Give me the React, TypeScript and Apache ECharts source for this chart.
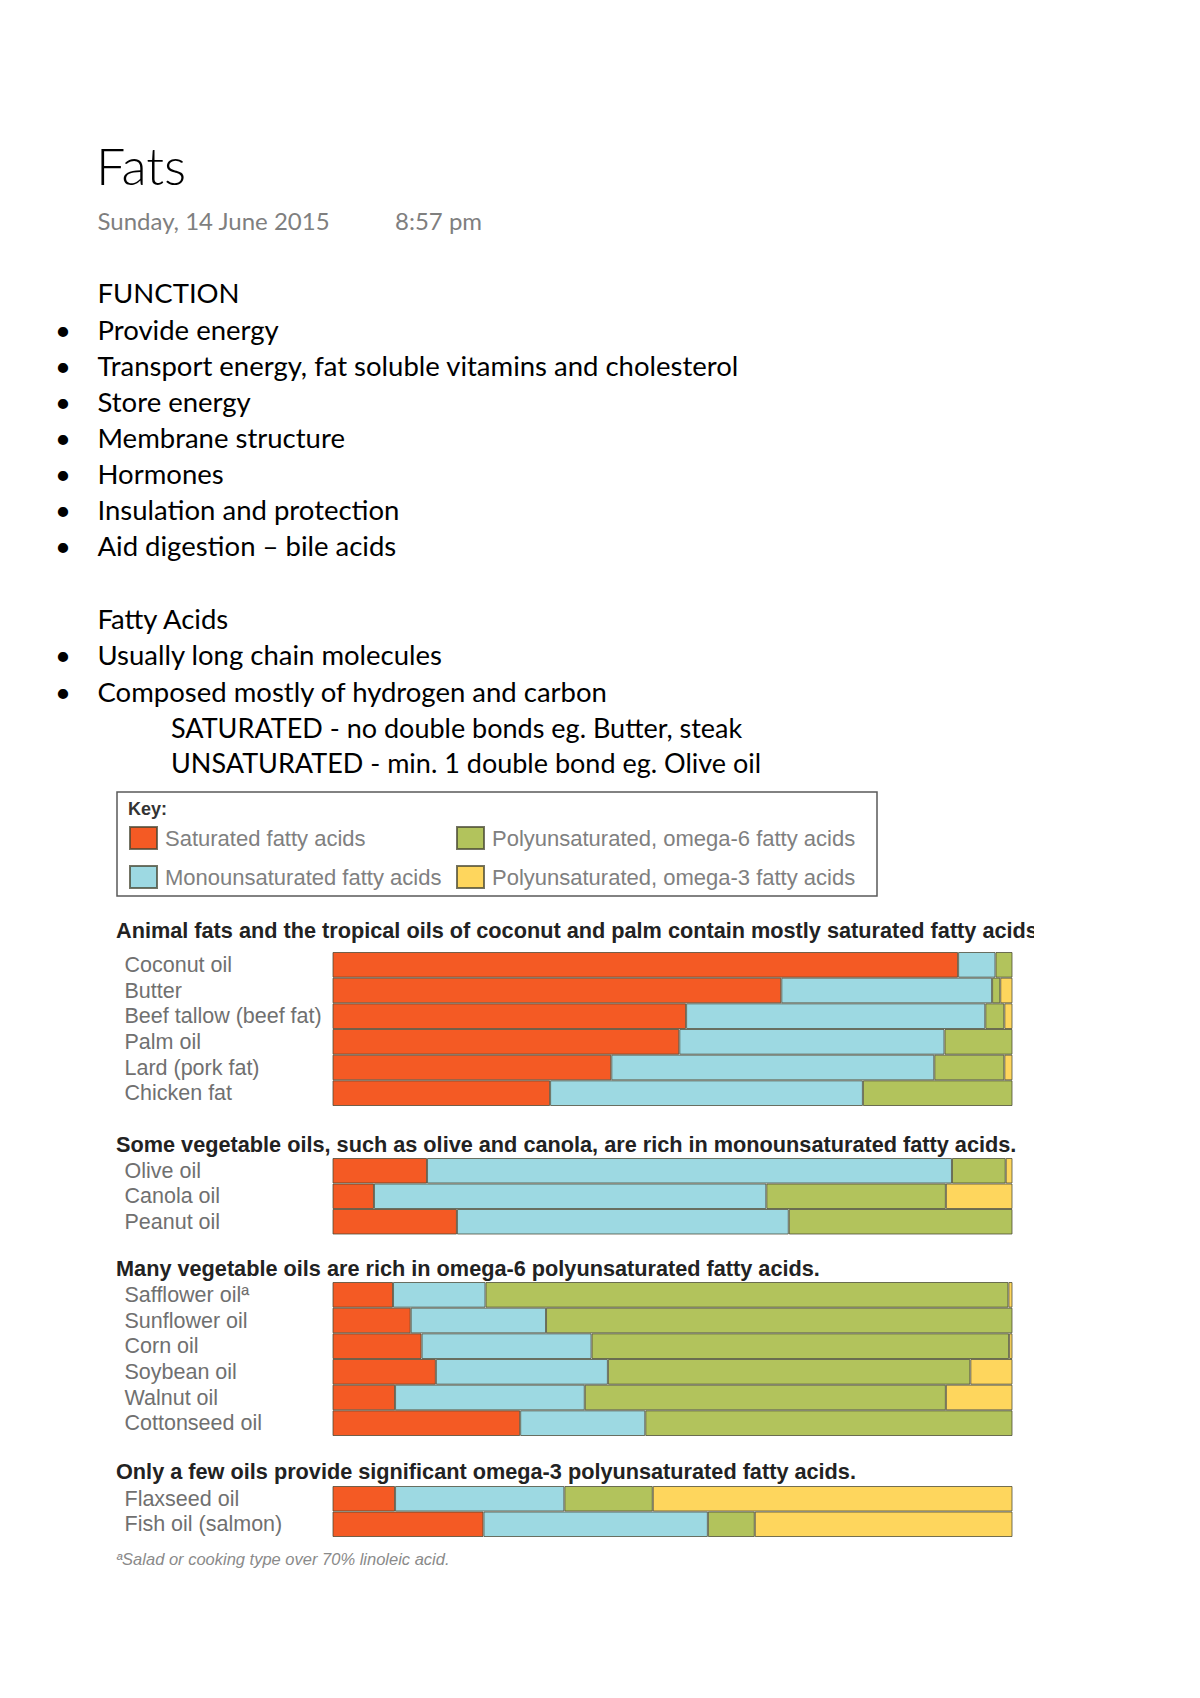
import React, { useEffect, useRef } from "react";
import * as echarts from "echarts";

// ---------- DATA ----------
const seriesNames = [
  "Saturated fatty acids",
  "Monounsaturated fatty acids",
  "Polyunsaturated, omega-6 fatty acids",
  "Polyunsaturated, omega-3 fatty acids",
];

const groupTitles = [
  "Animal fats and the tropical oils of coconut and palm contain mostly saturated fatty acids.",
  "Some vegetable oils, such as olive and canola, are rich in monounsaturated fatty acids.",
  "Many vegetable oils are rich in omega-6 polyunsaturated fatty acids.",
  "Only a few oils provide significant omega-3 polyunsaturated fatty acids.",
];

const animalCats = ["Coconut oil", "Butter", "Beef tallow (beef fat)", "Palm oil", "Lard (pork fat)", "Chicken fat"];
const animalSat = [92, 66, 52, 51, 41, 32];
const animalMono = [5.5, 31, 44, 39, 47.5, 46];
const animalO6 = [2.5, 1.2, 2.8, 10, 10.3, 22];
const animalO3 = [0, 1.8, 1.2, 0, 1.2, 0];

const monoCats = ["Olive oil", "Canola oil", "Peanut oil"];
const monoSat = [13.9, 6.1, 18.3];
const monoMono = [77.2, 57.7, 48.8];
const monoO6 = [7.9, 26.4, 32.9];
const monoO3 = [1.0, 9.8, 0];

const o6Cats = ["Safflower oilª", "Sunflower oil", "Corn oil", "Soybean oil", "Walnut oil", "Cottonseed oil"];
const o6Sat = [8.9, 11.5, 13.1, 15.2, 9.2, 27.6];
const o6Mono = [13.6, 19.9, 25.0, 25.3, 27.9, 18.4];
const o6O6 = [76.9, 68.6, 61.4, 53.3, 53.1, 54.0];
const o6O3 = [0.6, 0, 0.5, 6.2, 9.8, 0];

const o3Cats = ["Flaxseed oil", "Fish oil (salmon)"];
const o3Sat = [9.2, 22.2];
const o3Mono = [24.9, 33.0];
const o3O6 = [13.0, 6.9];
const o3O3 = [52.9, 37.9];

const footnote = "ªSalad or cooking type over 70% linoleic acid.";

const functionItems = [
  "Provide energy",
  "Transport energy, fat soluble vitamins and cholesterol",
  "Store energy",
  "Membrane structure",
  "Hormones",
  "Insulation and protection",
  "Aid digestion – bile acids",
];
const fattyItems = ["Usually long chain molecules", "Composed mostly of hydrogen and carbon"];
const subItems = [
  "SATURATED - no double bonds eg. Butter, steak",
  "UNSATURATED - min. 1 double bond eg. Olive oil",
];

// ---------- STYLE ----------
const colors = ["#F45A24", "#9DD9E2", "#B2C35C", "#FED65D"];
const BODY_FONT = "Lato";
const CHART_FONT = "'Liberation Sans', Arial, sans-serif";

const groups = [
  { cats: animalCats, values: [animalSat, animalMono, animalO6, animalO3], top: 952, height: 154, titleY: 930 },
  { cats: monoCats, values: [monoSat, monoMono, monoO6, monoO3], top: 1158, height: 76.5, titleY: 1144 },
  { cats: o6Cats, values: [o6Sat, o6Mono, o6O6, o6O3], top: 1282, height: 154, titleY: 1268 },
  { cats: o3Cats, values: [o3Sat, o3Mono, o3O6, o3O3], top: 1486, height: 51, titleY: 1471 },
];

const GRID_LEFT = 332.5;
const GRID_WIDTH = 680;

function buildOption() {
  const grid: any[] = [];
  const xAxis: any[] = [];
  const yAxis: any[] = [];
  const series: any[] = [];
  groups.forEach((g, gi) => {
    grid.push({ left: GRID_LEFT, top: g.top, width: GRID_WIDTH, height: g.height, containLabel: false });
    xAxis.push({ type: "value", gridIndex: gi, min: 0, max: 100, show: false });
    yAxis.push({
      type: "category",
      gridIndex: gi,
      data: g.cats,
      inverse: true,
      axisLine: { show: false },
      axisTick: { show: false },
      splitLine: { show: false },
      axisLabel: {
        interval: 0,
        color: "#707070",
        fontSize: 21.5,
        fontFamily: CHART_FONT,
        align: "left",
        margin: GRID_LEFT - 124.5,
      },
    });
    g.values.forEach((vals, si) => {
      series.push({
        name: seriesNames[si],
        type: "bar",
        stack: "g" + gi,
        xAxisIndex: gi,
        yAxisIndex: gi,
        barCategoryGap: "0%",
        data: vals.map((v) => (v === 0 ? null : v)),
        itemStyle: { color: colors[si], borderColor: "rgba(70,70,50,0.75)", borderWidth: 1 },
        emphasis: { disabled: true },
      });
    });
  });

  const graphic: any[] = [];
  const txt = (text: string, x: number, y: number, extra: any = {}) =>
    graphic.push({
      type: "text",
      x,
      y,
      z: 10,
      style: {
        text,
        fill: "#000",
        fontFamily: BODY_FONT,
        fontSize: 27.5,
        textVerticalAlign: "middle",
        ...extra,
      },
    });

  txt("Fats", 96, 165, { fontSize: 52, fontWeight: 300 });
  txt("Sunday, 14 June 2015", 97.5, 220, { fontSize: 24, fill: "#7f7f7f" });
  txt("8:57 pm", 395, 220, { fontSize: 24, fill: "#7f7f7f" });
  txt("FUNCTION", 97.5, 292.5);
  const fnY = [329, 365, 401.5, 437.5, 473.5, 509, 545.5];
  functionItems.forEach((t, i) => {
    txt("•", 55, fnY[i]);
    txt(t, 97.5, fnY[i]);
  });
  txt("Fatty Acids", 97.5, 618.5);
  const faY = [654, 691];
  fattyItems.forEach((t, i) => {
    txt("•", 55, faY[i]);
    txt(t, 97.5, faY[i]);
  });
  txt(subItems[0], 171, 727, { fontSize: 27 });
  txt(subItems[1], 171, 762.5, { fontSize: 27 });

  // key box
  graphic.push({
    type: "rect",
    z: 5,
    shape: { x: 117, y: 792, width: 760, height: 104 },
    style: { fill: "none", stroke: "#5a5a5a", lineWidth: 1.5 },
  });
  txt("Key:", 128, 808.5, { fontFamily: CHART_FONT, fontWeight: "bold", fontSize: 18, fill: "#333" });

  // group titles
  groups.forEach((g, gi) => {
    txt(groupTitles[gi], 116, g.titleY, { fontFamily: CHART_FONT, fontWeight: "bold", fontSize: 21.7, fill: "#222" });
  });
  // clipping of the first title like in the source
  graphic.push({
    type: "rect",
    z: 20,
    shape: { x: 1034, y: 915, width: 166, height: 30 },
    style: { fill: "#fff" },
  });
  txt(footnote, 116, 1558.5, { fontFamily: CHART_FONT, fontStyle: "italic", fontSize: 16.5, fill: "#8a8a8a" });

  const legendCommon = {
    orient: "vertical",
    padding: 0,
    itemWidth: 27,
    itemHeight: 22,
    itemGap: 15,
    icon: "rect",
    selectedMode: false,
    textStyle: { color: "#808080", fontSize: 22, fontFamily: CHART_FONT, padding: [0, 0, 0, 3] },
  };

  return {
    animation: false,
    backgroundColor: "#ffffff",
    grid,
    xAxis,
    yAxis,
    series,
    legend: [
      { ...legendCommon, left: 129, top: 826, data: [seriesNames[0], seriesNames[1]] },
      { ...legendCommon, left: 456, top: 826, data: [seriesNames[2], seriesNames[3]] },
    ],
    graphic,
  };
}

export default function App() {
  const ref = useRef<HTMLDivElement>(null);
  useEffect(() => {
    if (!ref.current) return;
    const chart = echarts.init(ref.current, undefined, { renderer: "svg" });
    chart.setOption(buildOption());
    return () => chart.dispose();
  }, []);
  return (
    <div
      ref={ref}
      style={{ position: "absolute", left: 0, top: 0, width: 1200, height: 1698, background: "#fff" }}
    />
  );
}
